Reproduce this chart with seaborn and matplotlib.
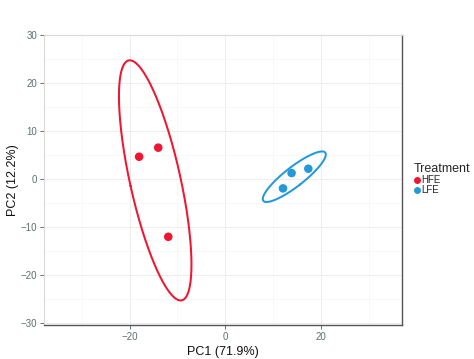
import numpy as np
import pandas as pd
import matplotlib
matplotlib.use("Agg")
import matplotlib.pyplot as plt
import seaborn as sns
from matplotlib.lines import Line2D
from matplotlib.ticker import MultipleLocator

# Data
treatment = ["HFE", "HFE", "HFE", "LFE", "LFE", "LFE"]
pc1 = [-18.0, -14.0, -11.9, 12.1, 13.9, 17.4]
pc2 = [4.6, 6.5, -12.1, -2.0, 1.2, 2.1]
groups = ["HFE", "LFE"]
colors = {"HFE": "#F01530", "LFE": "#2399DC"}
xticks = [-20, 0, 20]
yticks = [-30, -20, -10, 0, 10, 20, 30]
xlabel = "PC1 (71.9%)"
ylabel = "PC2 (12.2%)"
legend_title = "Treatment"

df = pd.DataFrame({"PC1": pc1, "PC2": pc2, "Treatment": treatment})

sns.set_theme(style="white")
plt.rcParams["font.family"] = ["Liberation Sans", "DejaVu Sans"]

fig = plt.figure(figsize=(4.74, 3.59), dpi=100)
ax = fig.add_axes([44 / 474, 1 - 325 / 359, (402 - 44) / 474, (325 - 35) / 359])

# 95% normal-theory ellipses
level_r = np.sqrt(-2 * np.log(0.05))
t = np.linspace(0, 2 * np.pi, 400)
for g in groups:
    sub = df[df.Treatment == g][["PC1", "PC2"]].to_numpy()
    mu = sub.mean(axis=0)
    cov = np.cov(sub.T)
    vals, vecs = np.linalg.eigh(cov)
    circ = np.vstack([np.cos(t), np.sin(t)])
    pts = (vecs @ np.diag(np.sqrt(vals)) @ circ) * level_r + mu[:, None]
    ax.plot(pts[0], pts[1], color=colors[g], lw=1.45, zorder=3)

sns.scatterplot(data=df, x="PC1", y="PC2", hue="Treatment", palette=colors,
                s=38, edgecolor="none", ax=ax, zorder=4, legend=False)

ax.set_xlim(-37.9, 37.0)
ax.set_ylim(-30.5, 30.0)
ax.set_xticks(xticks)
ax.set_yticks(yticks)
ax.xaxis.set_minor_locator(MultipleLocator(10))
ax.yaxis.set_minor_locator(MultipleLocator(5))
ax.grid(True, which="major", color="#EDEDED", lw=0.7)
ax.grid(True, which="minor", color="#F6F6F6", lw=0.5)
ax.set_axisbelow(True)

for s in ["left", "top"]:
    ax.spines[s].set_color("#D9D9D9")
    ax.spines[s].set_linewidth(0.8)
for s in ["right", "bottom"]:
    ax.spines[s].set_color("#555555")
    ax.spines[s].set_linewidth(1.0)

ax.tick_params(axis="both", which="major", length=3, width=0.6, color="#555555",
               labelsize=7, labelcolor="#5E6E70", pad=2, left=True, bottom=True)
ax.tick_params(axis="both", which="minor", length=0)

ax.set_xlabel(xlabel, fontsize=9, color="#111111", labelpad=3)
ax.set_ylabel(ylabel, fontsize=9, color="#111111", labelpad=1)

handles = [Line2D([0], [0], marker="o", linestyle="", markersize=5,
                  markerfacecolor=colors[g], markeredgecolor="none") for g in groups]
leg = fig.legend(handles, groups, title=legend_title, loc="center left",
                 bbox_to_anchor=(407 / 474, 1 - 179 / 359), frameon=False,
                 fontsize=7, title_fontsize=9, handlelength=0.6,
                 handletextpad=0.2, labelspacing=0.0, borderpad=0.2)
leg._legend_box.align = "left"

fig.savefig("out.png", dpi=100)
